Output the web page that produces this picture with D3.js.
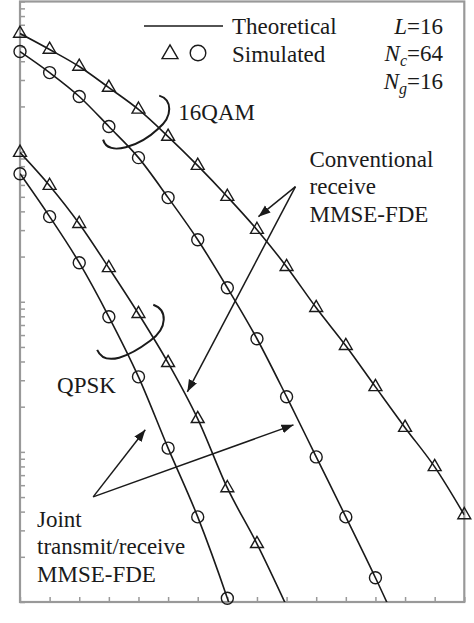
<!DOCTYPE html>
<html>
<head>
<meta charset="utf-8">
<script src="https://cdn.jsdelivr.net/npm/d3@7"></script>
<style>
	body { margin: 0; background: #fff; }
	text { font-family: "Liberation Serif", "Times New Roman", serif; fill: #1a1a1a; }
</style>
</head>
<body>
<div id="chart"></div>
<script>
// Eb/N0 grid (dB), one point per x tick
var snr = [0, 2, 4, 6, 8, 10, 12, 14, 16, 18, 20, 22, 24, 26, 28, 30];

// 16QAM, conventional receive MMSE-FDE (triangles)
var theoConv16 = [0.0612, 0.0479, 0.0369, 0.0267, 0.0191, 0.0126, 0.00807, 0.00501,
	0.00302, 0.00171, 0.000912, 0.000509, 0.000271, 0.000145, 7.94e-5, 3.8e-5];
var simConv16 = [0.0612, 0.0479, 0.0369, 0.0267, 0.0191, 0.0126, 0.00807, 0.00501,
	0.00302, 0.00171, 0.000912, 0.000509, 0.000271, 0.000145, 7.94e-5, 3.8e-5];

// 16QAM, joint transmit/receive MMSE-FDE (circles)
var theoJoint16 = [0.0464, 0.0336, 0.0233, 0.0147, 0.00912, 0.00494, 0.00259, 0.00124,
	0.000567, 0.000233, 9.26e-5, 3.69e-5, 1.45e-5, 5.41e-6];
var simJoint16 = [0.0464, 0.0336, 0.0233, 0.0147, 0.00912, 0.00494, 0.00259, 0.00124,
	0.000567, 0.000233, 9.26e-5, 3.69e-5, 1.45e-5];

// QPSK, conventional receive MMSE-FDE (triangles)
var theoConvQ = [0.00985, 0.00593, 0.00331, 0.00168, 0.000832, 0.000392, 0.000166,
	5.75e-5, 2.44e-5, 9.4e-6];
var simConvQ = [0.00985, 0.00593, 0.00331, 0.00168, 0.000832, 0.000392, 0.000166,
	5.75e-5, 2.44e-5];

// QPSK, joint transmit/receive MMSE-FDE (circles)
var theoJointQ = [0.00713, 0.00369, 0.00182, 0.000794, 0.000316, 0.000106, 3.69e-5,
	1.06e-5, 2.59e-6];
var simJointQ = [0.00713, 0.00369, 0.00182, 0.000794, 0.000316, 0.000106, 3.69e-5,
	1.06e-5];

var legendLabels = ["Theoretical", "Simulated"];

var width = 474, height = 623;
var margin = { top: 1.5, right: 9.7, bottom: 21, left: 20 };

var svg = d3.select("#chart").append("svg")
	.attr("width", width)
	.attr("height", height);

var x = d3.scaleLinear().domain([0, 30]).range([margin.left, width - margin.right]);
var y = d3.scaleLog().domain([1e-5, 1e-1]).range([height - margin.bottom, margin.top]);

// annotation points are given as [dB, log10(BER)]
function pt(p) { return [x(p[0]), y(Math.pow(10, p[1]))]; }

svg.append("clipPath").attr("id", "plotClip")
	.append("rect")
	.attr("x", x(0)).attr("y", y(1e-1))
	.attr("width", x(30) - x(0)).attr("height", y(1e-5) - y(1e-1));

// axes: inward ticks, no labels
var yAxis = svg.append("g")
	.attr("transform", "translate(" + x(0) + ",0)")
	.call(d3.axisRight(y).tickSize(5).tickFormat(""));
var xAxis = svg.append("g")
	.attr("transform", "translate(0," + y(1e-5) + ")")
	.call(d3.axisTop(x).tickValues(snr).tickSize(5).tickFormat(""));
[yAxis, xAxis].forEach(function (g) {
	g.select(".domain").remove();
	g.selectAll("line").attr("stroke", "#999").attr("stroke-width", 1.5);
});

// frame
svg.append("rect")
	.attr("x", x(0)).attr("y", y(1e-1))
	.attr("width", x(30) - x(0)).attr("height", y(1e-5) - y(1e-1))
	.attr("fill", "none").attr("stroke", "#999").attr("stroke-width", 2.2);

// theoretical curves
var line = d3.line()
	.x(function (d, i) { return x(snr[i]); })
	.y(function (d) { return y(d); })
	.curve(d3.curveMonotoneX);

var curves = svg.append("g").attr("clip-path", "url(#plotClip)");
[theoConv16, theoJoint16, theoConvQ, theoJointQ].forEach(function (s) {
	curves.append("path")
		.datum(s)
		.attr("d", line)
		.attr("fill", "none")
		.attr("stroke", "#1a1a1a")
		.attr("stroke-width", 1.6);
});

// simulated markers
var tri = d3.symbol().type(d3.symbolTriangle).size(72);
var bigTri = d3.symbol().type(d3.symbolTriangle).size(110);

function drawTriangles(s) {
	svg.append("g").selectAll("path")
		.data(s)
		.enter().append("path")
		.attr("d", tri)
		.attr("transform", function (d, i) { return "translate(" + x(snr[i]) + "," + y(d) + ")"; })
		.attr("fill", "none")
		.attr("stroke", "#1a1a1a")
		.attr("stroke-width", 1.4);
}
function drawCircles(s) {
	svg.append("g").selectAll("circle")
		.data(s)
		.enter().append("circle")
		.attr("cx", function (d, i) { return x(snr[i]); })
		.attr("cy", function (d) { return y(d); })
		.attr("r", 6)
		.attr("fill", "none")
		.attr("stroke", "#1a1a1a")
		.attr("stroke-width", 1.4);
}
drawTriangles(simConv16);
drawTriangles(simConvQ);
drawCircles(simJoint16);
drawCircles(simJointQ);

// brackets around each modulation pair
var arcs = [
	[[9.40, -1.627], [10.28, -1.653], [10.35, -1.767], [9.33, -1.847], [8.12, -1.96], [5.95, -2.04], [5.61, -1.92]],
	[[9.00, -3.02], [9.94, -3.053], [10.01, -3.173], [8.79, -3.26], [7.44, -3.36], [5.75, -3.44], [5.21, -3.32]]
];
arcs.forEach(function (a) {
	var p = a.map(pt);
	svg.append("path")
		.attr("d", "M" + p[0] + "C" + p[1] + " " + p[2] + " " + p[3] + "C" + p[4] + " " + p[5] + " " + p[6])
		.attr("fill", "none")
		.attr("stroke", "#1a1a1a")
		.attr("stroke-width", 2);
});

// arrows
svg.append("defs").append("marker")
	.attr("id", "head")
	.attr("viewBox", "0 -5 12 10")
	.attr("refX", 12).attr("refY", 0)
	.attr("markerWidth", 12).attr("markerHeight", 10)
	.attr("markerUnits", "userSpaceOnUse")
	.attr("orient", "auto")
	.append("path")
	.attr("d", "M0,-4.5L12,0L0,4.5Z")
	.attr("fill", "#1a1a1a");

var arrows = [
	{ from: [18.60, -2.233], to: [16.10, -2.433] },
	{ from: [18.60, -2.233], to: [11.30, -3.6] },
	{ from: [4.94, -4.3], to: [8.46, -3.853] },
	{ from: [4.94, -4.3], to: [18.47, -3.82] }
];
arrows.forEach(function (a) {
	var p0 = pt(a.from), p1 = pt(a.to);
	svg.append("line")
		.attr("x1", p0[0]).attr("y1", p0[1])
		.attr("x2", p1[0]).attr("y2", p1[1])
		.attr("stroke", "#1a1a1a")
		.attr("stroke-width", 1.5)
		.attr("marker-end", "url(#head)");
});

// annotation labels
var labels = [
	{ at: [10.69, -1.787], lines: ["16QAM"] },
	{ at: [19.55, -2.1], lines: ["Conventional", "receive", "MMSE-FDE"] },
	{ at: [2.50, -3.607], lines: ["QPSK"] },
	{ at: [1.15, -4.5], lines: ["Joint", "transmit/receive", "MMSE-FDE"] }
];
labels.forEach(function (l) {
	var p = pt(l.at);
	var t = svg.append("text").attr("font-size", 23);
	l.lines.forEach(function (s, i) {
		t.append("tspan").attr("x", p[0]).attr("y", p[1] + i * 27.5).text(s);
	});
});

// legend
svg.append("line")
	.attr("x1", 144).attr("x2", 223).attr("y1", 26).attr("y2", 26)
	.attr("stroke", "#1a1a1a").attr("stroke-width", 1.5);
svg.append("path")
	.attr("d", bigTri)
	.attr("transform", "translate(170,54)")
	.attr("fill", "none").attr("stroke", "#1a1a1a").attr("stroke-width", 1.4);
svg.append("circle")
	.attr("cx", 198).attr("cy", 53).attr("r", 7.8)
	.attr("fill", "none").attr("stroke", "#1a1a1a").attr("stroke-width", 1.4);
legendLabels.forEach(function (s, i) {
	svg.append("text")
		.attr("x", 232).attr("y", 34 + i * 27.5)
		.attr("font-size", 23)
		.text(s);
});

// simulation parameters
var params = [
	{ sym: "L", sub: "", val: "=16" },
	{ sym: "N", sub: "c", val: "=64" },
	{ sym: "N", sub: "g", val: "=16" }
];
params.forEach(function (p, i) {
	var t = svg.append("text")
		.attr("x", 443).attr("y", 34 + i * 27.3)
		.attr("font-size", 23)
		.attr("text-anchor", "end");
	t.append("tspan").attr("font-style", "italic").text(p.sym);
	if (p.sub) {
		t.append("tspan").attr("font-style", "italic").attr("font-size", 16).attr("dy", 5).text(p.sub);
		t.append("tspan").attr("dy", -5).text(p.val);
	} else {
		t.append("tspan").text(p.val);
	}
});
</script>
</body>
</html>
